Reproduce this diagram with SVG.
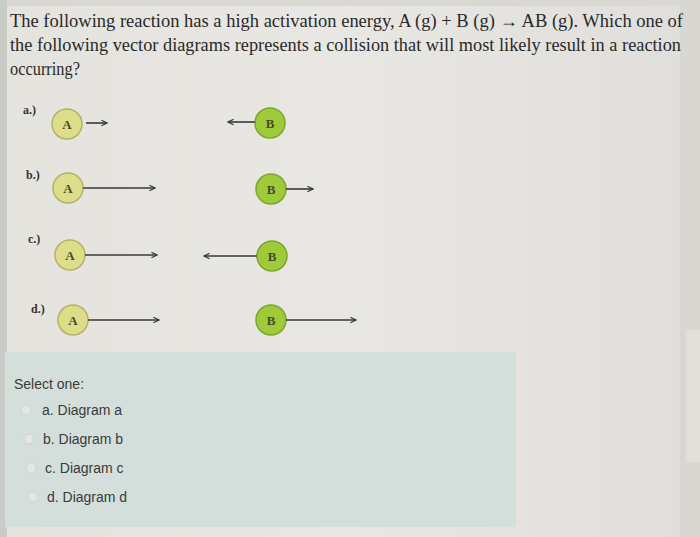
<svg xmlns="http://www.w3.org/2000/svg" width="700" height="537" viewBox="0 0 700 537">
<defs>
<marker id="ah" viewBox="0 0 10 10" refX="9" refY="5" markerWidth="7" markerHeight="7" orient="auto-start-reverse" markerUnits="userSpaceOnUse">
<path d="M1,1 L9,5 L1,9" fill="none" stroke="#3a3a3a" stroke-width="1.6"/>
</marker>
<linearGradient id="bg" x1="0" y1="0" x2="1" y2="0">
<stop offset="0" stop-color="#e4e3de"/>
<stop offset="0.5" stop-color="#e9e7e3"/>
<stop offset="1" stop-color="#dfdeda"/>
</linearGradient>
</defs>
<style>
.q{font-family:"Liberation Serif","Times New Roman",serif;font-size:18px;fill:#2a2a2a}
.lab{font-family:"Liberation Serif",serif;font-size:12px;fill:#333;font-weight:bold}
.ca{fill:#dede8a;stroke:#b3b36a;stroke-width:1.5}
.cb{fill:#9fca3a;stroke:#7ea52c;stroke-width:1.5}
.cl{font-family:"Liberation Serif",serif;font-size:13px;font-weight:bold;text-anchor:middle;fill:#4a4a2a}
.vec{stroke:#3a3a3a;stroke-width:1.6;fill:none;marker-end:url(#ah)}
.s{font-family:"Liberation Sans",Arial,sans-serif;font-size:14px;fill:#3a3a3a}
.rb{fill:#e3e6e2;stroke:#cfd3cf;stroke-width:1}
</style>
<rect width="700" height="537" fill="url(#bg)"/>
<rect x="0" y="0" width="700" height="6" fill="#d9d8d3"/>
<rect x="0" y="0" width="7" height="537" fill="#c9ccc6"/>
<rect x="680" y="0" width="20" height="537" fill="#d8d7d2"/>
<rect x="686" y="330" width="14" height="132" fill="#e0dfda"/>

<g id="question">
<text class="q" x="10" y="27" textLength="673" lengthAdjust="spacingAndGlyphs">The following reaction has a high activation energy, A (g) + B (g) → AB (g). Which one of</text>
<text class="q" x="10" y="51" textLength="671" lengthAdjust="spacingAndGlyphs">the following vector diagrams represents a collision that will most likely result in a reaction</text>
<text class="q" x="10" y="75" textLength="70" lengthAdjust="spacingAndGlyphs">occurring?</text>
</g>

<g id="row-a">
<text class="lab" x="23" y="114">a.)</text>
<g id="a-A"><circle class="ca" cx="67" cy="124" r="15"/><text class="cl" x="67" y="128.5">A</text></g>
<g id="a-B"><circle class="cb" cx="270" cy="123" r="15"/><text class="cl" x="270" y="127.5">B</text></g>
</g>
<g id="row-b">
<text class="lab" x="26" y="179">b.)</text>
<g id="b-A"><circle class="ca" cx="68" cy="188" r="15"/><text class="cl" x="68" y="192.5">A</text></g>
<g id="b-B"><circle class="cb" cx="271" cy="189" r="15"/><text class="cl" x="271" y="193.5">B</text></g>
</g>
<g id="row-c">
<text class="lab" x="28" y="243">c.)</text>
<g id="c-A"><circle class="ca" cx="70" cy="255" r="15"/><text class="cl" x="70" y="259.5">A</text></g>
<g id="c-B"><circle class="cb" cx="272" cy="256" r="15"/><text class="cl" x="272" y="260.5">B</text></g>
</g>
<g id="row-d">
<text class="lab" x="31" y="313">d.)</text>
<g id="d-A"><circle class="ca" cx="73" cy="320" r="15"/><text class="cl" x="73" y="324.5">A</text></g>
<g id="d-B"><circle class="cb" cx="271" cy="320" r="15"/><text class="cl" x="271" y="324.5">B</text></g>
</g>

<g id="vectors">
<line class="vec" x1="86" y1="123" x2="107" y2="123"/>
<line class="vec" x1="255" y1="122" x2="228" y2="122"/>
<line class="vec" x1="83" y1="188" x2="155" y2="188"/>
<line class="vec" x1="286" y1="189" x2="313" y2="189"/>
<line class="vec" x1="85" y1="255" x2="157" y2="255"/>
<line class="vec" x1="257" y1="256" x2="204" y2="256"/>
<line class="vec" x1="88" y1="320" x2="159" y2="320"/>
<line class="vec" x1="286" y1="320" x2="356" y2="320"/>
</g>

<g id="answers">
<rect x="5" y="352" width="511" height="175" fill="#d4dfdb"/>
<text class="s" x="14" y="389">Select one:</text>
<g id="opt-a"><circle class="rb" cx="26" cy="410" r="5"/><text class="s" x="42" y="415">a. Diagram a</text></g>
<g id="opt-b"><circle class="rb" cx="29" cy="439" r="5"/><text class="s" x="43" y="444">b. Diagram b</text></g>
<g id="opt-c"><circle class="rb" cx="31" cy="468" r="5"/><text class="s" x="45" y="473">c. Diagram c</text></g>
<g id="opt-d"><circle class="rb" cx="33" cy="497" r="5"/><text class="s" x="47" y="502">d. Diagram d</text></g>
</g>
</svg>
